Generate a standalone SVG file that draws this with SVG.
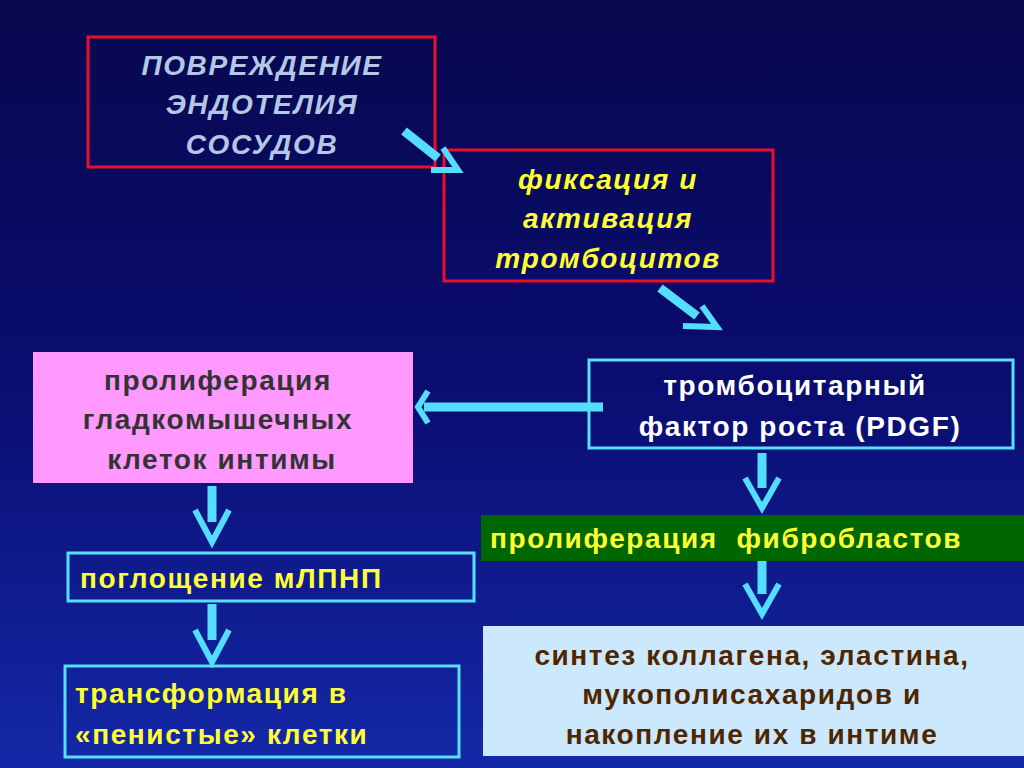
<svg xmlns="http://www.w3.org/2000/svg" width="1024" height="768" viewBox="0 0 1024 768">
<defs>
<linearGradient id="bg" x1="0" y1="0" x2="0" y2="1">
<stop offset="0" stop-color="#08084e"/>
<stop offset="0.5" stop-color="#0a0d70"/>
<stop offset="1" stop-color="#1428a8"/>
</linearGradient>
</defs>
<style>
text{font-family:"Liberation Sans",Arial,sans-serif;font-weight:bold;font-size:28px;letter-spacing:1.6px}
.red{fill:none;stroke:#e8102a;stroke-width:3}
.cy{fill:none;stroke:#55e0ff;stroke-width:3}
.sh{stroke:#55ddff;stroke-width:9;fill:none}
.hd{stroke:#55ddff;stroke-width:6;fill:none}
</style>
<rect width="1024" height="768" fill="url(#bg)"/>
<g id="n1"><rect class="red" x="88" y="37" width="347" height="130"/>
<g fill="#b4c8e6" font-style="italic" text-anchor="middle"><text x="262" y="75">ПОВРЕЖДЕНИЕ</text><text x="262" y="114">ЭНДОТЕЛИЯ</text><text x="262" y="154">СОСУДОВ</text></g></g>
<g id="n2"><rect class="red" x="444" y="150" width="329" height="131"/>
<g fill="#ffff33" font-style="italic" text-anchor="middle"><text x="608" y="189">фиксация и</text><text x="608" y="228">активация</text><text x="608" y="268">тромбоцитов</text></g></g>
<g id="n3"><rect x="33" y="352" width="380" height="131" fill="#ff99ff"/>
<g fill="#333" text-anchor="middle"><text x="218" y="390">пролиферация</text><text x="218" y="429">гладкомышечных</text><text x="222" y="469">клеток интимы</text></g></g>
<g id="n4"><rect class="cy" x="589" y="360" width="424" height="88"/>
<g fill="#fff" text-anchor="middle"><text x="795" y="395">тромбоцитарный</text><text x="800" y="436">фактор роста (PDGF)</text></g></g>
<g id="n5"><rect x="481" y="515" width="543" height="46" fill="#006600"/>
<text x="490" y="548" fill="#ffff33" xml:space="preserve">пролиферация  фибробластов</text></g>
<g id="n6"><rect class="cy" x="68" y="553" width="406" height="48"/>
<text x="80" y="588" fill="#ffff33">поглощение мЛПНП</text></g>
<g id="n7"><rect class="cy" x="65" y="666" width="394" height="91"/>
<g fill="#ffff33"><text x="75" y="703">трансформация в</text><text x="75" y="744">«пенистые» клетки</text></g></g>
<g id="n8"><rect x="483" y="626" width="541" height="130" fill="#cce8fc"/>
<g fill="#4d2600" text-anchor="middle"><text x="752" y="665">синтез коллагена, эластина,</text><text x="752" y="704">мукополисахаридов и</text><text x="752" y="744">накопление их в интиме</text></g></g>
<g id="connectors">
<line class="sh" x1="404" y1="131" x2="438" y2="158"/><polyline class="hd" points="443,148 458,170 431,170"/>
<line class="sh" x1="660" y1="288" x2="697" y2="316"/><polyline class="hd" points="702,306 717,327 683,326"/>
<line class="sh" x1="603" y1="407" x2="424" y2="407"/><polyline class="hd" points="428,391 418,407 428,423"/>
<line class="sh" x1="762" y1="453" x2="762" y2="488"/><polyline class="hd" points="745,478 762,508 779,478"/>
<line class="sh" x1="762" y1="561" x2="762" y2="594"/><polyline class="hd" points="745,584 762,614 779,584"/>
<line class="sh" x1="212" y1="486" x2="212" y2="522"/><polyline class="hd" points="195,510 212,542 229,510"/>
<line class="sh" x1="212" y1="604" x2="212" y2="640"/><polyline class="hd" points="195,630 212,662 229,630"/>
</g>
</svg>
